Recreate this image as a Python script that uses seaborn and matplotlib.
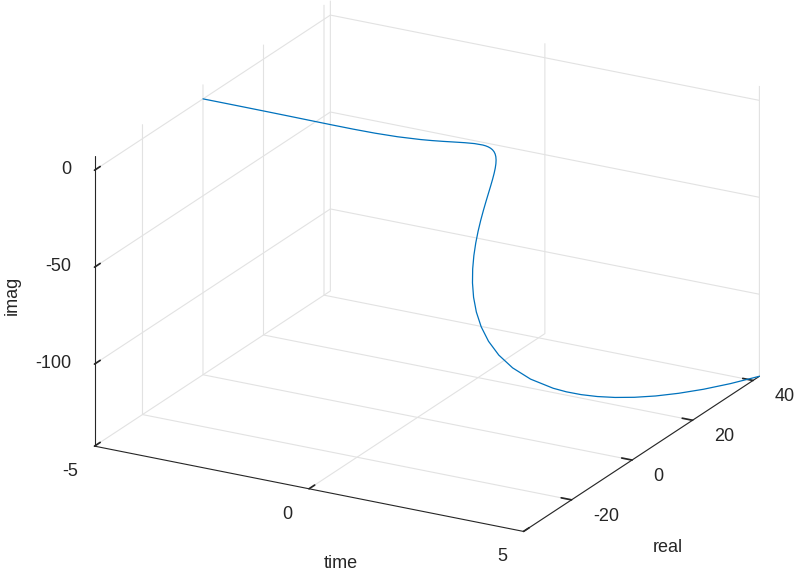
import matplotlib
matplotlib.use("Agg")
import matplotlib.pyplot as plt
import pandas as pd
import seaborn as sns

# samples of the complex curve: time, real part, imaginary part
time = [-5.0, -4.5, -4.0, -3.5, -3.0, -2.5, -2.0, -1.5, -1.0, -0.5,
        0.0, 0.25, 0.5, 0.75, 1.0, 1.25, 1.5,
        1.6, 1.7, 1.8, 1.9, 2.0, 2.1, 2.2, 2.3, 2.4, 2.5,
        2.6, 2.7, 2.8, 2.9, 3.0, 3.1, 3.2, 3.3, 3.4, 3.5,
        3.6, 3.7, 3.8, 3.9, 4.0, 4.1, 4.2, 4.3, 4.4, 4.5,
        4.55, 4.6, 4.65, 4.7, 4.75, 4.8, 4.85, 4.9, 4.95, 5.0]
real = [0.002, -0.002, -0.012, -0.028, -0.049, -0.066, -0.056, 0.016, 0.199, 0.532,
        1.0, 1.244, 1.447, 1.549, 1.469, 1.101, 0.317,
        -0.145, -0.705, -1.375, -2.161, -3.075, -4.122, -5.311, -6.646, -8.129, -9.760,
        -11.537, -13.453, -15.494, -17.647, -19.885, -22.178, -24.491, -26.774, -28.969, -31.013,
        -32.821, -34.303, -35.359, -35.861, -35.685, -34.684, -32.696, -29.539, -25.030, -18.976,
        -15.31, -11.162, -6.52, -1.363, 4.35, 10.632, 17.53, 25.045, 33.23, 42.105]
imag = [0.007, 0.011, 0.014, 0.011, -0.007, -0.049, -0.123, -0.223, -0.310, -0.291,
        0.0, 0.318, 0.790, 1.443, 2.287, 3.312, 4.471,
        4.951, 5.428, 5.891, 6.327, 6.719, 7.049, 7.297, 7.438, 7.446, 7.291,
        6.941, 6.360, 5.509, 4.347, 2.834, 0.923, -1.433, -4.276, -7.656, -11.617,
        -16.195, -21.429, -27.353, -33.979, -41.320, -49.377, -58.124, -67.524, -77.509, -87.992,
        -93.38, -98.858, -104.39, -109.936, -115.50, -121.049, -126.53, -131.940, -137.21, -142.313]

time_ticks = [-5, 0, 5]
real_ticks = [-20, 0, 20, 40]
imag_ticks = [-100, -50, 0]

sns.set_theme(style="white")
plt.rcParams['font.family'] = ['Liberation Sans', 'DejaVu Sans']
plt.rcParams['axes.unicode_minus'] = False

df = pd.DataFrame({'time': time, 'real': real, 'imag': imag})
line_color = "#0072BD"
text_color = "#262626"
grid_color = "#e2e2e2"

fig = plt.figure(figsize=(8, 5.74), dpi=100)
ax = fig.add_axes([0.024, 0.023, 1.0, 1.0], projection='3d')
ax.set_proj_type('ortho')
ax.view_init(elev=21.2, azim=-61.2)
ax.set_box_aspect((1, 1, 0.636), zoom=1.284)

curve, = ax.plot(df['time'], df['real'], df['imag'], color=line_color, lw=0.9)
curve.set_clip_on(False)  # the 3d axes clip box is narrower than the drawn cube

t0, t1 = df['time'].min(), df['time'].max()
r0, r1 = df['real'].min(), df['real'].max()
z0, z1 = df['imag'].min(), df['imag'].max()
ax.set_xlim(t0, t1)
ax.set_ylim(r0, r1)
ax.set_zlim(z0, z1)
ax.set_xticks(time_ticks)
ax.set_yticks(real_ticks)
ax.set_zticks(imag_ticks)

for axis in (ax.xaxis, ax.yaxis, ax.zaxis):
    axis.set_pane_color((1, 1, 1, 1))
    axis.pane.set_edgecolor('none')
    axis.line.set_color(text_color)
    axis.line.set_linewidth(0.8)
    axis._axinfo['grid'].update(color=grid_color, linewidth=0.8)
    axis._axinfo['tick'].update(inward_factor=0.0, outward_factor=0.3)
    axis._axinfo['tick']['color'] = text_color
    axis.set_tick_params(labelbottom=False)
    for tick in axis.get_major_ticks():
        tick.label1.set_visible(False)
        tick.label2.set_visible(False)
    # the empty built-in axis title and offset text are not used
    axis.label.set_visible(False)
    axis.offsetText.set_visible(False)

ax.zaxis.set_ticks_position('lower')

# tick labels sit where MATLAB puts them, offset from the box edges in data units
lab = dict(fontsize=13, color=text_color)
for v in time_ticks:
    ax.text(v, r0 - 5.5, z0 - 7.5, str(v), ha='right', va='center', **lab)
for v in real_ticks:
    ax.text(t1 + 0.5, v, z0 - 6.2, str(v), ha='left', va='center', **lab)
for v in imag_ticks:
    ax.text(t0 - 0.43, r0 - 1.55, v, str(v), ha='right', va='center', **lab)

# axis titles
fig.text(341 / 800, 1 - 563 / 574, 'time', fontsize=13, color=text_color, ha='center', va='center')
fig.text(668 / 800, 1 - 547 / 574, 'real', fontsize=13, color=text_color, ha='center', va='center')
fig.text(12 / 800, 1 - 295 / 574, 'imag', fontsize=13, color=text_color, ha='center', va='center',
         rotation=90)

fig.savefig('out.png', dpi=100)
